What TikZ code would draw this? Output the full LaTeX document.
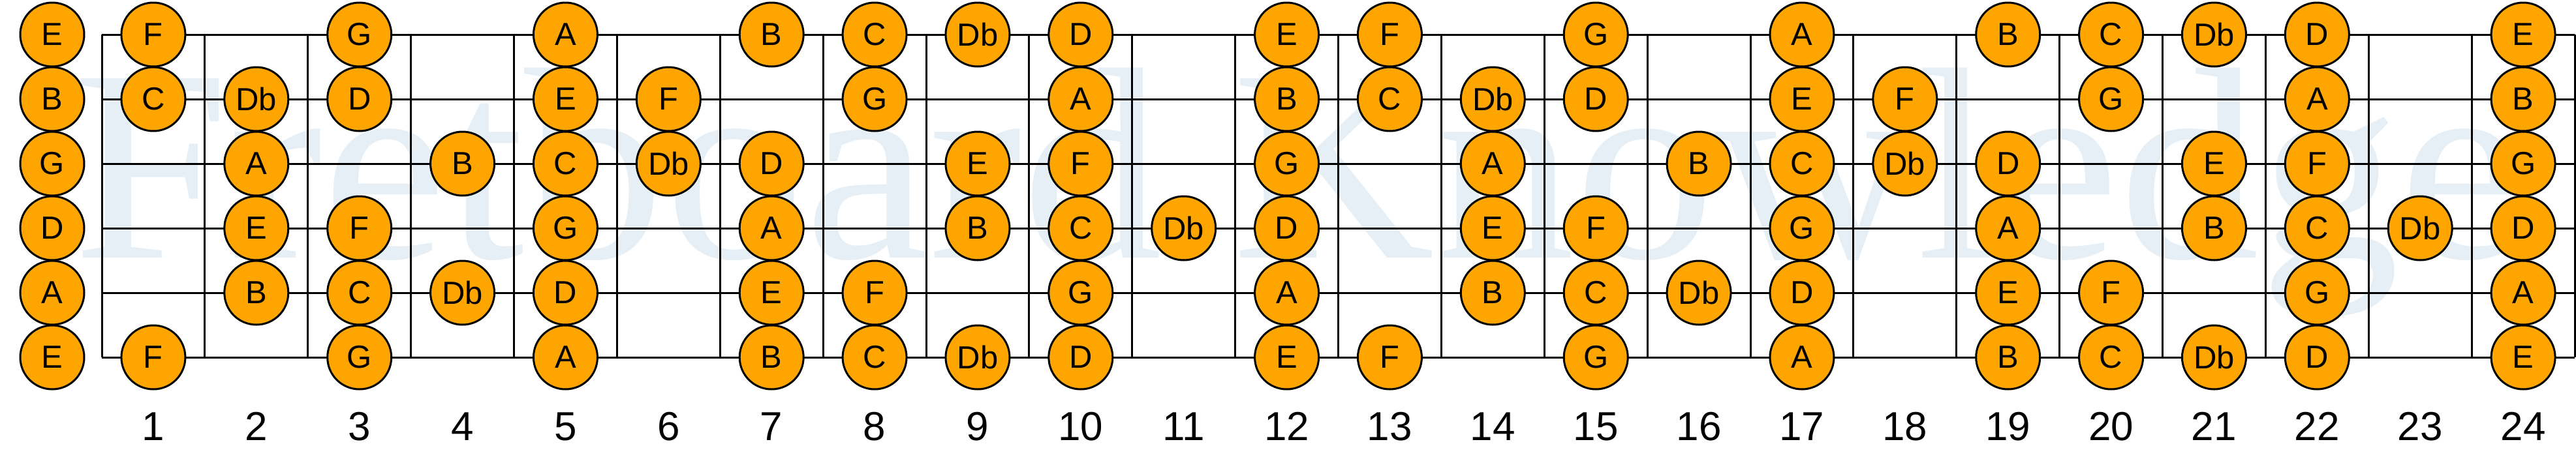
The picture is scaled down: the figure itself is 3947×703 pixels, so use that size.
\documentclass[tikz,border=0pt]{standalone}
\usepackage{fontspec}
\setmainfont{Liberation Sans}
\newfontfamily\wmfont{Liberation Serif}
\definecolor{noteorange}{HTML}{FFA500}
\definecolor{wmblue}{HTML}{E6EFF5}
\begin{document}
\begin{tikzpicture}[x=0.5pt,y=-0.5pt,
  gridline/.style={line width=1.5pt,black},
  note/.style={circle,draw=black,line width=1.5pt,fill=noteorange,minimum size=49pt,inner sep=0pt,
    font=\fontsize{24.5}{24.5}\selectfont},
  fretnum/.style={font=\fontsize{31}{31}\selectfont,inner sep=0pt},
  watermark/.style={text=wmblue,font=\wmfont\fontsize{210}{210}\selectfont,inner sep=0pt,anchor=base west}]
\useasboundingbox (0,0) rectangle (3947,703);
% watermark
\node[watermark,xscale=1.022] (wm) at (112,395) {Fretboard Knowledge};
% strings
\foreach \s in {0,...,5}{
  \coordinate (sl\s) at (156,{53+99*\s});
  \coordinate (sr\s) at (3945,{53+99*\s});
  \draw[gridline] (sl\s) -- (sr\s);
}
% frets
\foreach \f in {0,...,24}{
  \coordinate (ft\f) at ({156+\f*157.875},53);
  \coordinate (fb\f) at ({156+\f*157.875},548);
  \draw[gridline] (ft\f) -- (fb\f);
}
% open strings
\foreach \s/\n in {0/E,1/B,2/G,3/D,4/A,5/E}{
  \node[note] (o\s) at (80,{53+99*\s}) {\n};
}
% fretted notes (pattern repeats every 12 frets)
\foreach \o in {0,12}{
  \foreach \f/\s/\n in {1/0/F,1/1/C,1/5/F,
    2/1/Db,2/2/A,2/3/E,2/4/B,
    3/0/G,3/1/D,3/3/F,3/4/C,3/5/G,
    4/2/B,4/4/Db,
    5/0/A,5/1/E,5/2/C,5/3/G,5/4/D,5/5/A,
    6/1/F,6/2/Db,
    7/0/B,7/2/D,7/3/A,7/4/E,7/5/B,
    8/0/C,8/1/G,8/4/F,8/5/C,
    9/0/Db,9/2/E,9/3/B,9/5/Db,
    10/0/D,10/1/A,10/2/F,10/3/C,10/4/G,10/5/D,
    11/3/Db,
    12/0/E,12/1/B,12/2/G,12/3/D,12/4/A,12/5/E}{
    \pgfmathtruncatemacro{\ff}{\f+\o}
    \node[note] (n\ff-\s) at ({156+(\ff-0.5)*157.875},{53+99*\s}) {\n};
  }
}
% fret numbers
\foreach \f in {1,...,24}{
  \node[fretnum] (num\f) at ({156+(\f-0.5)*157.875},654) {\f};
}
\end{tikzpicture}
\end{document}
